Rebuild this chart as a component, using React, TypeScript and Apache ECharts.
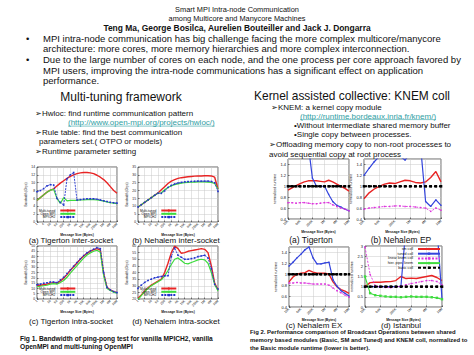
import React, { useEffect, useRef } from 'react';
import * as echarts from 'echarts';

const FONT = '"Liberation Sans", Arial, Helvetica, sans-serif';

// ---------- Fig 1 data (bandwidth, Gbps) ----------
const sizesL = ['1', '2', '4', '8', '16', '32', '64', '128', '256', '512', '1K', '2K', '4K', '8K', '16K', '32K', '64K', '128K', '256K', '512K', '1M', '2M', '4M', '8M', '16M'];

const tigInterMulti = [5.5, 6.2, 6.9, 7.6, 8.1, 8.4, 9.2, 9.9, 10.5, 11.1, 11.6, 12.0, 12.3, 12.5, 12.6, 12.6, 12.5, 12.3, 11.9, 11.4, 10.8, 10.0, 9.0, 8.0, 7.3];
const tigInterOmpi = [5.5, 6.2, 6.9, 7.6, 8.1, 8.3, 6.0, 4.7, 6.2, 5.4, 5.5, 5.5, 5.5, 5.6, 5.6, 5.7, 5.7, 5.7, 5.6, 5.5, 5.3, 5.1, 4.9, 4.8, 4.7];
const tigInterMpich = [7.7, 8.0, 8.5, 9.2, 9.5, 9.4, 6.0, 5.0, 4.3, 11.0, 12.0, 12.6, 5.6, 5.7, 5.8, 5.9, 5.9, 5.9, 5.8, 5.6, 5.4, 5.2, 5.0, 4.9, 4.8];

const nehInterMulti = [9.5, 11, 12.5, 14, 15.5, 17, 18.5, 20.5, 22.5, 24.5, 26, 27, 27.8, 28.2, 28.5, 28.8, 29, 29.2, 29.3, 29.3, 29.4, 29.4, 29.3, 28.5, 21];
const nehInterOmpi = [9.5, 11, 12.5, 14, 15.5, 17, 18.3, 18.6, 20.5, 22, 23, 23.8, 24.3, 24.7, 25, 25.2, 25.3, 25.4, 25.5, 25.5, 25.5, 25.4, 25.2, 24.5, 21];
const nehInterMpich = [9.5, 11, 12.5, 14, 15.5, 17, 18.3, 18.2, 19.8, 22, 23.3, 24.2, 24.8, 25.2, 25.5, 25.7, 25.8, 25.9, 26, 26, 26, 26, 25.8, 25, 19.5];

const tigIntraMulti = [12.5, 13, 13.5, 14, 15, 15.5, 14.8, 17, 19.5, 23, 27, 30.5, 34, 37.5, 40.5, 43, 45, 46.5, 47.5, 46, 24, 11, 8.5, 7, 6];
const tigIntraOmpi = [11.5, 12, 12.5, 13, 14, 14.5, 14, 15.5, 17.5, 20.5, 24.5, 28, 31.5, 35, 38.5, 41.5, 43.5, 45, 46, 44, 22, 10, 8, 6.5, 5.5];
const tigIntraMpich = [13.5, 14, 14.8, 15.3, 16, 16, 15.5, 18, 20.5, 24, 27.5, 31, 34.5, 38, 41, 43.5, 45.5, 47, 48.5, 47.5, 25, 11, 8.5, 7, 6];

const nehIntraMulti = [20.5, 23, 26, 28.5, 30.5, 32, 33.5, 35, 40, 47, 55, 60, 58, 54.5, 55, 56, 56.5, 57, 57.5, 58, 57.5, 55, 45, 32, 27];
const nehIntraOmpi = [19.5, 22.5, 25.5, 28, 30, 31.5, 33, 34.5, 37.5, 41.5, 46, 50, 51, 49, 47, 46.5, 47.5, 48.5, 49.5, 50, 49.5, 47, 40, 31, 26];
const nehIntraMpich = [28, 30.5, 32.5, 34, 35, 36, 36.5, 37, 37.5, 37.5, 52, 58.5, 53, 51.5, 50, 50, 50.5, 51, 52, 52.5, 53, 51, 43, 31, 27.5];

// ---------- Fig 2 data (normalized runtime) ----------
const sizesR = ['16K', '25K', '40K', '64K', '102K', '161K', '256K', '406K', '645K', '1M', '1.6M', '2.5M', '4M', '6.3M', '10M', '16M'];

const tigSm = [0.93, 0.97, 1.01, 1.05, 1.08, 1.1, 1.1, 1.1, 1.09, 1.08, 1.11, 1.08, 1.04, 1.0, 0.96, 0.91];
const tigTuned = [3.0, 2.8, 2.6, 2.3, 2.0, 1.75, 1.15, 1.0, 1.0, 1.0, 0.85, 0.72, 0.65, 0.62, 0.58, 0.55];
const tigLinear = [0.7, 0.7, 0.69, 0.7, 0.7, 0.69, 0.68, 0.68, 0.69, 0.7, 0.7, 0.66, 0.63, 0.6, 0.58, 0.55];
const tigBasic = [1, 1, 1, 1, 1, 1, 1, 1, 1, 1, 1, 1, 1, 1, 1, 1];

const epSm = [0.77, 0.88, 0.95, 1.0, 1.04, 1.06, 1.05, 1.08, 1.11, 1.1, 1.07, 1.06, 1.08, 1.16, 1.27, 1.08];
const epTuned = [1.2, 1.33, 1.45, 1.55, 1.6, 1.62, 1.6, 1.55, 1.48, 1.6, 1.8, 1.75, 0.72, 0.63, 0.75, 0.65];
const epLinear = [0.58, 0.6, 0.61, 0.62, 0.63, 0.63, 0.64, 0.64, 0.63, 0.63, 0.62, 0.61, 0.6, 0.54, 0.6, 0.56];
const epBasic = [1, 1, 1, 1, 1, 1, 1, 1, 1, 1, 1, 1, 1, 1, 1, 1];

const exSm = [0.86, 0.95, 1.0, 1.02, 1.03, 1.07, 1.04, 1.02, 1.02, 1.02, 1.0, 0.86, 0.77, 0.72, 0.69, 0.65];
const exTuned = [1.15, 1.22, 1.3, 1.37, 1.45, 1.5, 1.3, 1.19, 1.19, 1.21, 1.22, 0.9, 0.78, 0.7, 0.65, 0.6];
const exLinear = [0.84, 0.84, 0.85, 0.84, 0.84, 0.83, 0.82, 0.82, 0.82, 0.82, 0.8, 0.75, 0.7, 0.66, 0.62, 0.58];
const exBasic = [1, 1, 1, 1, 1, 1, 1, 1, 1, 1, 1, 1, 1, 1, 1, 1];

const istSm = [1.0, 1.2, 1.22, 1.22, 1.24, 1.25, 1.3, 1.5, 1.4, 1.42, 1.4, 1.45, 1.5, 1.55, 1.45, 1.3];
const istTuned = [1.0, 1.0, 1.0, 1.0, 1.0, 1.0, 1.0, 1.02, 4.0, 4.0, 4.0, 4.0, 4.0, 4.0, 4.0, 0.4];
const istLinear = [2.95, 1.6, 1.05, 0.98, 0.96, 0.95, 0.98, 1.02, 1.1, 1.15, 1.2, 1.25, 1.3, 1.3, 1.25, 1.1];
const istHier = [1.5, 0.68, 0.58, 0.55, 0.52, 0.5, 0.5, 0.48, 0.5, 0.52, 0.5, 0.5, 0.5, 0.48, 0.45, 0.38];
const istBasic = [1, 1, 1, 1, 1, 1, 1, 1, 1, 1, 1, 1, 1, 1, 1, 1];

// ---------- text ----------
const titleLines = ['Smart MPI Intra-node Communication', 'among Multicore and Manycore Machines'];
const authors = 'Teng Ma, George Bosilca, Aurelien Bouteiller and Jack J. Dongarra';
const introLines = [
  ['MPI intra-node communication has big challenge facing the more complex multicore/manycore', true],
  ['architecture: more cores, more memory hierarchies and more complex interconnection.', false],
  ['Due to the large number of cores on each node, and the one process per core approach favored by', true],
  ['MPI users, improving the intra-node communications has a significant effect on application', false],
  ['performance.', false],
];
const leftHeading = 'Multi-tuning framework';
const rightHeading = 'Kernel assisted collective: KNEM coll';
const fig1Caption = ['Fig 1. Bandwidth of ping-pong test for vanilla MPICH2, vanilla', 'OpenMPI and multi-tuning OpenMPI'];
const fig2Caption = [
  'Fig 2. Performance comparison of Broadcast Operations between shared',
  'memory based modules (Basic, SM and Tuned) and KNEM coll, normalized to',
  'the Basic module runtime (lower is better).',
];

const RED = '#e82424';
const GREEN = '#3edc3e';
const BLUE = '#2233cc';
const MAG = '#dd33dd';
const LINK = '#2f9ea3';

function measure(text: string, font: string) {
  const c = document.createElement('canvas').getContext('2d');
  if (!c) return text.length * 4;
  c.font = font;
  return c.measureText(text).width;
}

// font size that makes `text` span `width` pixels
function fit(text: string, width: number, bold = false) {
  const w = measure(text, `${bold ? 'bold ' : ''}10px ${FONT}`);
  return w > 0 ? (10 * width) / w : 8;
}

function T(x: number, y: number, text: string, size: number, o: any = {}) {
  const align = o.align || 'left';
  return {
    type: 'text', x, y, silent: true, z: 10,
    style: {
      text,
      fill: o.color || '#111',
      font: `${o.bold ? 'bold ' : ''}${size}px ${FONT}`,
      textAlign: align, align,
      textVerticalAlign: 'middle', verticalAlign: 'middle',
    },
  };
}

function link(x: number, y: number, text: string, size: number) {
  const w = measure(text, `${size}px ${FONT}`);
  return [
    T(x, y, text, size, { color: LINK }),
    { type: 'line', silent: true, z: 10, shape: { x1: x, y1: y + size * 0.45, x2: x + w, y2: y + size * 0.45 }, style: { stroke: LINK, lineWidth: 0.6 } },
  ];
}

function xAxis(gi: number, data: string[], interval: number, fs: number, nameGap: number) {
  return {
    type: 'category', gridIndex: gi, data, boundaryGap: false,
    axisLine: { show: false },
    axisTick: { show: true, inside: true, length: 1.5, interval, lineStyle: { color: '#000', width: 0.5 } },
    axisLabel: { interval, rotate: 45, fontSize: fs, margin: 1.5, color: '#111', fontFamily: FONT },
    splitLine: { show: true, interval, lineStyle: { color: '#c9c9c9', width: 0.5 } },
    name: 'Message Size (Bytes)', nameLocation: 'middle', nameGap,
    nameTextStyle: { fontSize: fs, fontWeight: 'bold', color: '#111', fontFamily: FONT },
  };
}

function yAxis(gi: number, min: number, max: number, interval: number, name: string, fs: number, nameGap: number, hideMax = false) {
  return {
    type: 'value', gridIndex: gi, min, max, interval,
    axisLine: { show: false },
    axisTick: { show: true, inside: true, length: 1.5, lineStyle: { color: '#000', width: 0.5 } },
    axisLabel: { fontSize: fs, margin: 2, color: '#111', fontFamily: FONT, showMaxLabel: !hideMax },
    splitLine: { show: true, lineStyle: { color: '#c9c9c9', width: 0.5 } },
    name, nameLocation: 'middle', nameGap, nameRotate: 90,
    nameTextStyle: { fontSize: fs * 0.9, color: '#111', fontFamily: FONT },
  };
}

function line(name: string, gi: number, data: number[], color: string, o: any = {}) {
  return {
    type: 'line', name, xAxisIndex: gi, yAxisIndex: gi, data,
    symbol: o.symbol || 'none', symbolSize: o.symbolSize || 2,
    showSymbol: !!o.symbol, showAllSymbol: true,
    lineStyle: { color, width: o.width || 1, type: o.dash || 'solid' },
    itemStyle: { color },
    z: o.z || 2, silent: true, clip: true,
  };
}

function leftSeries(gi: number, multi: number[], ompi: number[], mpich: number[]) {
  return [
    line('Multi-tuned', gi, multi, RED, { width: 1.4, z: 2 }),
    line('Open MPI', gi, ompi, GREEN, { width: 1.2, z: 3 }),
    line('MPICH2', gi, mpich, BLUE, { width: 0.9, dash: [2, 1], symbol: 'rect', symbolSize: 1.6, z: 4 }),
  ];
}

function rightSeries(gi: number, sm: number[], tuned: number[], lin: number[], basic: number[], hier?: number[]) {
  const s: any[] = [
    line('sm coll', gi, sm, RED, { width: 1.4, z: 2 }),
    line('tuned coll', gi, tuned, '#3344dd', { width: 1.2, symbol: 'rect', symbolSize: 1.3, z: 3 }),
    line('linear knem coll', gi, lin, MAG, { width: 0.9, dash: [2, 1.5], symbol: 'rect', symbolSize: 1.5, z: 4 }),
  ];
  if (hier) s.push(line('hier. pipe. knem', gi, hier, GREEN, { width: 1.1, symbol: 'rect', symbolSize: 2.4, z: 5 }));
  s.push(line('basic coll', gi, basic, '#000', { width: 1.8, dash: [3, 2], symbol: 'rect', symbolSize: 2.6, z: 6 }));
  return s;
}

function leftLegend(left: number, top: number) {
  return {
    data: ['Multi-tuned', 'Open MPI', 'MPICH2'], left, top, orient: 'vertical', align: 'right',
    itemWidth: 15, itemHeight: 3, itemGap: 0.3, padding: 0, selectedMode: false,
    textStyle: { fontSize: 3.3, color: '#111', fontFamily: FONT, padding: [0, 0, 0, 0] },
  };
}

function buildOption() {
  const grids = [
    { left: 37, top: 167, width: 80, height: 55 },
    { left: 138, top: 167, width: 80, height: 55 },
    { left: 37, top: 246, width: 80, height: 53 },
    { left: 138, top: 246, width: 80, height: 53 },
    { left: 288, top: 159, width: 61, height: 60 },
    { left: 364, top: 159, width: 77, height: 60 },
    { left: 289, top: 247, width: 60, height: 60 },
    { left: 365, top: 246, width: 77, height: 61 },
  ].map((g) => ({ ...g, show: true, borderColor: '#000', borderWidth: 0.6, backgroundColor: 'transparent', containLabel: false }));

  const xAxes = [
    xAxis(0, sizesL, 1, 3.3, 9),
    xAxis(1, sizesL, 1, 3.3, 9),
    xAxis(2, sizesL, 1, 3.3, 9),
    xAxis(3, sizesL, 1, 3.3, 9),
    xAxis(4, sizesR, 2, 3.4, 10),
    xAxis(5, sizesR, 2, 3.4, 10),
    xAxis(6, sizesR, 2, 3.4, 10),
    xAxis(7, sizesR, 2, 3.4, 10),
  ];
  const yAxes = [
    yAxis(0, 0, 14, 2, 'Bandwidth (Gbps)', 3.3, 8),
    yAxis(1, 0, 35, 5, 'Bandwidth (Gbps)', 3.3, 8),
    yAxis(2, 0, 50, 5, 'Bandwidth (Gbps)', 3.3, 8),
    yAxis(3, 20, 60, 5, 'Bandwidth (Gbps)', 3.3, 8),
    yAxis(4, 0.4, 1.5, 0.2, 'normalized runtime', 4, 11, true),
    yAxis(5, 0.4, 1.5, 0.2, 'normalized runtime', 4, 11, true),
    yAxis(6, 0.4, 1.5, 0.2, 'normalized runtime', 4, 11, true),
    yAxis(7, 0, 3, 0.5, 'normalized runtime', 4, 11),
  ];

  const series = [
    ...leftSeries(0, tigInterMulti, tigInterOmpi, tigInterMpich),
    ...leftSeries(1, nehInterMulti, nehInterOmpi, nehInterMpich),
    ...leftSeries(2, tigIntraMulti, tigIntraOmpi, tigIntraMpich),
    ...leftSeries(3, nehIntraMulti, nehIntraOmpi, nehIntraMpich),
    ...rightSeries(4, tigSm, tigTuned, tigLinear, tigBasic),
    ...rightSeries(5, epSm, epTuned, epLinear, epBasic),
    ...rightSeries(6, exSm, exTuned, exLinear, exBasic),
    ...rightSeries(7, istSm, istTuned, istLinear, istBasic, istHier),
  ];

  const legend = [
    leftLegend(39, 209),
    leftLegend(140, 209),
    leftLegend(39, 287),
    leftLegend(140, 287),
    {
      data: ['sm coll', 'tuned coll', 'linear knem coll', 'hier. pipe. knem', 'basic coll'],
      right: 33, top: 247, orient: 'vertical', align: 'right',
      itemWidth: 22, itemHeight: 3, itemGap: 0.7, padding: 0, selectedMode: false,
      textStyle: { fontSize: 3.6, color: '#111', fontFamily: FONT },
    },
  ];

  const g: any[] = [];
  const titleSize = fit(titleLines[0], 124);
  g.push(T(237, 9, titleLines[0], titleSize, { align: 'center' }));
  g.push(T(237, 18, titleLines[1], titleSize, { align: 'center' }));
  g.push(T(237, 27.5, authors, fit(authors, 268, true), { align: 'center', bold: true }));
  const introSize = fit(introLines[0][0] as string, 398);
  const introY = [38, 48.5, 59.5, 70, 80.5];
  introLines.forEach(([t, b], i) => {
    if (b) g.push(T(26, introY[i], '•', introSize));
    g.push(T(43, introY[i], t as string, introSize));
  });
  g.push(T(121, 97, leftHeading, 12, { align: 'center' }));
  g.push(T(352, 95.5, rightHeading, fit(rightHeading, 196), { align: 'center' }));

  g.push(T(35, 113, '➢Hwloc: find runtime communication pattern', 8));
  g.push(...link(68, 122.5, '(http://www.open-mpi.org/projects/hwloc/)', 8));
  g.push(T(35, 132, '➢Rule table: find the best communication', 8));
  g.push(T(39, 141.5, 'parameters set.( OTPO or models)', 8));
  g.push(T(35, 151, '➢Runtime parameter setting', 8));

  g.push(T(271, 107, '➢KNEM: a kernel copy module', 8));
  g.push(...link(300, 116, '(http://runtime.bordeaux.inria.fr/knem/)', 8));
  g.push(T(294, 125.5, '•Without intermediate shared memory buffer', 8));
  g.push(T(294, 134.5, '•Single copy between processes.', 8));
  g.push(T(269, 144.5, '➢Offloading memory copy to non-root processes to', 8));
  g.push(T(269, 154, 'avoid sequential copy at root process', 8));

  g.push(T(71, 240, '(a) Tigerton inter-socket', 8, { align: 'center' }));
  g.push(T(176, 240, '(b) Nehalem inter-socket', 8, { align: 'center' }));
  g.push(T(71, 321, '(c) Tigerton intra-socket', 8, { align: 'center' }));
  g.push(T(176, 321, '(d) Nehalem intra-socket', 8, { align: 'center' }));
  g.push(T(311, 240, '(a) Tigerton', 8.5, { align: 'center' }));
  g.push(T(401, 240, '(b) Nehalem EP', 8.5, { align: 'center' }));
  g.push(T(314, 325, '(c) Nehalem EX', 8, { align: 'center' }));
  g.push(T(401, 325, '(d) Istanbul', 8, { align: 'center' }));

  const f1 = fit(fig1Caption[0], 193, true);
  g.push(T(20, 338, fig1Caption[0], f1, { bold: true }));
  g.push(T(20, 346.5, fig1Caption[1], f1, { bold: true }));
  const f2 = Math.min(fit(fig2Caption[0], 212, true), fit(fig2Caption[1], 218, true));
  g.push(T(250, 332, fig2Caption[0], f2, { bold: true }));
  g.push(T(250, 340, fig2Caption[1], f2, { bold: true }));
  g.push(T(250, 348, fig2Caption[2], f2, { bold: true }));

  return {
    animation: false,
    backgroundColor: '#fff',
    grid: grids,
    xAxis: xAxes,
    yAxis: yAxes,
    legend,
    series,
    graphic: g,
  };
}

export default function App() {
  const ref = useRef<HTMLDivElement>(null);
  useEffect(() => {
    if (!ref.current) return;
    const chart = echarts.init(ref.current, null, { renderer: 'svg' });
    chart.setOption(buildOption() as any);
    return () => chart.dispose();
  }, []);
  return <div ref={ref} style={{ position: 'fixed', left: 0, top: 0, width: 474, height: 355, background: '#fff' }} />;
}
